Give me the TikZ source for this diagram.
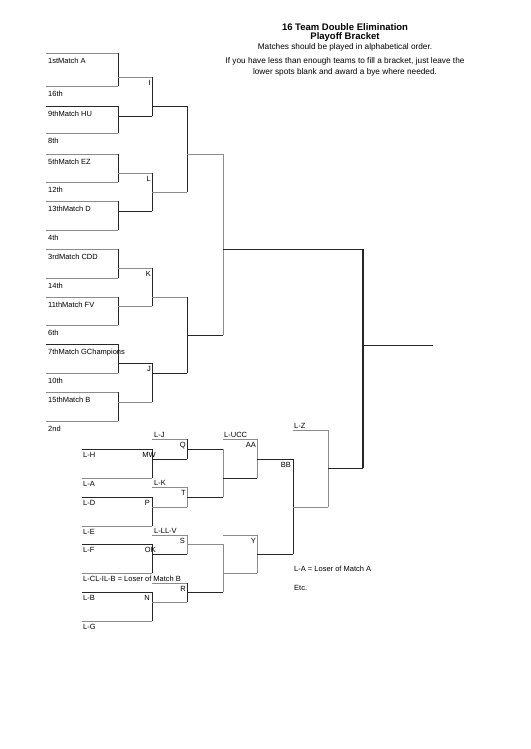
\documentclass[tikz,border=0pt]{standalone}
\usepackage{fontspec}
\setmainfont{Liberation Sans}
\begin{document}
\begin{tikzpicture}[x=1pt,y=-1pt,
  gl/.style={draw=black!45, line width=0.6pt},
  dl/.style={draw=black!85, line width=0.9pt},
  lab/.style={font=\fontsize{7.5}{9}\selectfont, inner sep=0pt, anchor=west, text height=5.4pt, text depth=0pt},
  rlab/.style={lab, anchor=east},
  hd/.style={font=\bfseries\fontsize{9.5}{11}\selectfont, inner sep=0pt},
  tx/.style={font=\fontsize{8.25}{9}\selectfont, inner sep=0pt}]
\fill[white] (0,0) rectangle (530,749);
\useasboundingbox (0,0) rectangle (530,749);
% header
\node[hd] (t1) at (345,27.5) {16 Team Double Elimination};
\node[hd] (t2) at (345,37) {Playoff Bracket};
\node[tx] (t3) at (345,47) {Matches should be played in alphabetical order.};
\node[tx] (t4) at (345,61) {If you have less than enough teams to fill a bracket, just leave the};
\node[tx] (t5) at (345,72.5) {lower spots blank and award a bye where needed.};
% ---------- upper bracket, round 1 ----------
\foreach \t/\b in {53/86,106/133,154/182,201/230,249/278,297/325,344/373,392/421}{
  \draw[gl] (46,\t) -- (118,\t);
  \draw[gl] (46,\b) -- (118,\b);
  \draw[dl] (118,\t) -- (118,\b);
}
\draw[dl] (46,106) -- (118,106);
\draw[dl] (46,344) -- (118,344);
% round 2 boxes
\foreach \a/\c in {77/116,173/211,268/306,363/402}{
  \draw[gl] (118,\a) -- (152,\a);
  \draw[gl] (118,\c) -- (152,\c);
  \draw[dl] (152,\a) -- (152,\c);
}
\draw[dl] (118,116) -- (152,116);
\draw[dl] (118,211) -- (152,211);
\draw[dl] (118,363) -- (152,363);
% round 3
\draw[dl] (152,106) -- (187,106);
\draw[gl] (152,192) -- (187,192);
\draw[dl] (187,106) -- (187,192);
\draw[gl] (152,297) -- (187,297);
\draw[dl] (152,373) -- (187,373);
\draw[dl] (187,297) -- (187,373);
% round 4
\draw[gl] (187,154) -- (223,154);
\draw[dl] (187,335) -- (223,335);
\draw[gl] (223,154) -- (223,335);
% final
\draw[dl] (223,249) -- (363,249);
\draw[dl,line width=1.1pt] (363,249) -- (363,468);
\draw[dl] (363,345) -- (433,345);
% upper labels
\node[lab] (u1) at (48,60.5) {1stMatch A};
\node[lab] (u2) at (48,93.5) {16th};
\node[lab] (u3) at (48,113.5) {9thMatch HU};
\node[lab] (u4) at (48,140.5) {8th};
\node[lab] (u5) at (48,161.5) {5thMatch EZ};
\node[lab] (u6) at (48,189.5) {12th};
\node[lab] (u7) at (48,208.5) {13thMatch D};
\node[lab] (u8) at (48,237.5) {4th};
\node[lab] (u9) at (48,256.5) {3rdMatch CDD};
\node[lab] (u10) at (48,285.5) {14th};
\node[lab] (u11) at (48,304.5) {11thMatch FV};
\node[lab] (u12) at (48,332.5) {6th};
\node[lab] (u13) at (48,351.5) {7thMatch GChampions};
\node[lab] (u14) at (48,380.5) {10th};
\node[lab] (u15) at (48,399.5) {15thMatch B};
\node[lab] (u16) at (48,428.5) {2nd};
\node[rlab] (mI) at (151,83) {I};
\node[rlab] (mL) at (151,179) {L};
\node[rlab] (mK) at (151,274) {K};
\node[rlab] (mJ) at (151,369) {J};
% ---------- lower bracket ----------
% round L1
\foreach \t/\b in {449/478,497/526,544/573,592/621}{
  \draw[gl] (82,\t) -- (152,\t);
  \draw[gl] (82,\b) -- (152,\b);
  \draw[dl] (152,\t) -- (152,\b);
}
\draw[dl] (82,449) -- (152,449);
\draw[dl] (82,497) -- (152,497);
\draw[dl] (82,544) -- (152,544);
\draw[dl] (82,592) -- (152,592);
% round L2
\foreach \t/\b in {439/459,487/507,535/554,583/602}{
  \draw[gl] (152,\t) -- (187,\t);
  \draw[gl] (152,\b) -- (187,\b);
  \draw[gl] (187,\t) -- (187,\b);
}
\draw[dl] (152,459) -- (187,459);
\draw[dl] (152,554) -- (187,554);
\draw[dl] (187,439) -- (187,459);
\draw[dl] (187,583) -- (187,602);
% round L3
\draw[dl] (187,449) -- (223,449);
\draw[dl] (187,497) -- (223,497);
\draw[gl] (223,449) -- (223,497);
\draw[gl] (187,544) -- (223,544);
\draw[dl] (187,592) -- (223,592);
\draw[gl] (223,544) -- (223,592);
% AA and Y
\draw[gl] (223,439) -- (257,439);
\draw[dl] (223,478) -- (257,478);
\draw[gl] (257,439) -- (257,478);
\draw[gl] (223,535) -- (257,535);
\draw[gl] (223,573) -- (257,573);
\draw[gl] (257,535) -- (257,573);
% BB
\draw[dl] (257,459) -- (293,459);
\draw[dl] (257,554) -- (293,554);
\draw[dl] (293,459) -- (293,554);
% Z
\draw[gl] (293,430) -- (328,430);
\draw[gl] (293,507) -- (328,507);
\draw[gl] (328,430) -- (328,507);
\draw[dl] (328,468) -- (363,468);
% lower labels
\node[lab] (lH) at (83,455) {L-H};
\node[lab] (lA) at (83,484) {L-A};
\node[lab] (lD) at (83,503) {L-D};
\node[lab] (lE) at (83,532) {L-E};
\node[lab] (lF) at (83,550) {L-F};
\node[lab] (lCL) at (83,579) {L-CL-IL-B = Loser of Match B};
\node[lab] (lB) at (83,598) {L-B};
\node[lab] (lG) at (83,627) {L-G};
\node[lab] (lJ) at (154,434.5) {L-J};
\node[lab] (lK) at (154,482.5) {L-K};
\node[lab] (lLLV) at (154,530.5) {L-LL-V};
\node[lab] (lUCC) at (224,434.5) {L-UCC};
\node[lab] (lZ) at (294,425.5) {L-Z};
\node[rlab] (mMW) at (156,455) {MW};
\node[rlab] (mP) at (150,503) {P};
\node[rlab] (mOK) at (156,550) {OK};
\node[rlab] (mN) at (150,598) {N};
\node[rlab] (mQ) at (186,445) {Q};
\node[rlab] (mT) at (186,493) {T};
\node[rlab] (mS) at (185,541) {S};
\node[rlab] (mR) at (186,589) {R};
\node[rlab] (mAA) at (256,445) {AA};
\node[rlab] (mY) at (256,541) {Y};
\node[rlab] (mBB) at (291,465) {BB};
\node[lab] (note1) at (294,569) {L-A = Loser of Match A};
\node[lab] (note2) at (294,588) {Etc.};
\end{tikzpicture}
\end{document}
